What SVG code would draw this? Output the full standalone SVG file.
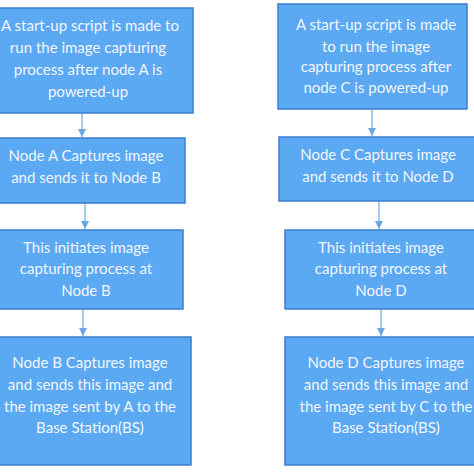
<svg xmlns="http://www.w3.org/2000/svg" width="474" height="474" viewBox="0 0 474 474">
<style>
.box{fill:#5aa9f2;stroke:#3c7dcc;stroke-width:1.5}
.t{font-family:Lato,"Noto Sans",sans-serif;font-size:15px;fill:#f2f6ff;text-anchor:middle}
.c{stroke:#7bb0e2;stroke-width:1.3;fill:none}
</style>
<defs>
<marker id="ah" viewBox="0 0 8 8" refX="8" refY="4" markerWidth="8" markerHeight="8" markerUnits="userSpaceOnUse" orient="auto">
<path d="M0,0 L8,4 L0,8 Z" fill="#6aa6e0"/>
</marker>
</defs>
<rect width="474" height="474" fill="#ffffff"/>
<g id="connectors">
<line class="c" x1="82" y1="113" x2="82" y2="137" marker-end="url(#ah)"/>
<line class="c" x1="85" y1="203" x2="85" y2="229" marker-end="url(#ah)"/>
<line class="c" x1="83" y1="309" x2="83" y2="336" marker-end="url(#ah)"/>
<line class="c" x1="372" y1="109" x2="372" y2="136" marker-end="url(#ah)"/>
<line class="c" x1="379" y1="201" x2="379" y2="229" marker-end="url(#ah)"/>
<line class="c" x1="381" y1="309" x2="381" y2="336" marker-end="url(#ah)"/>
</g>
<g id="nodeA1">
<rect class="box" x="-17" y="8" width="210" height="105"/>
<text class="t" x="90" y="31">A start-up script is made to</text>
<text class="t" x="88" y="53">run the image capturing</text>
<text class="t" x="88" y="75">process after node A is</text>
<text class="t" x="88" y="97">powered-up</text>
</g>
<g id="nodeA2">
<rect class="box" x="-13" y="138" width="198" height="65"/>
<text class="t" x="86" y="161">Node A Captures image</text>
<text class="t" x="86" y="183">and sends it to Node B</text>
</g>
<g id="nodeA3">
<rect class="box" x="-11" y="230" width="194" height="79"/>
<text class="t" x="86" y="253">This initiates image</text>
<text class="t" x="86" y="274">capturing process at</text>
<text class="t" x="86" y="296">Node B</text>
</g>
<g id="nodeA4">
<rect class="box" x="-11" y="337" width="202" height="128"/>
<text class="t" x="90" y="368">Node B Captures image</text>
<text class="t" x="90" y="390">and sends this image and</text>
<text class="t" x="90" y="412">the image sent by A to the</text>
<text class="t" x="90" y="433">Base Station(BS)</text>
</g>
<g id="nodeC1">
<rect class="box" x="278" y="4" width="189" height="105"/>
<text class="t" x="376" y="30">A start-up script is made</text>
<text class="t" x="376" y="52">to run the image</text>
<text class="t" x="376" y="72">capturing process after</text>
<text class="t" x="376" y="93">node C is powered-up</text>
</g>
<g id="nodeC2">
<rect class="box" x="279" y="137" width="200" height="64"/>
<text class="t" x="378" y="160">Node C Captures image</text>
<text class="t" x="378" y="182">and sends it to Node D</text>
</g>
<g id="nodeC3">
<rect class="box" x="285" y="230" width="194" height="79"/>
<text class="t" x="381" y="253">This initiates image</text>
<text class="t" x="381" y="274">capturing process at</text>
<text class="t" x="381" y="296">Node D</text>
</g>
<g id="nodeD4">
<rect class="box" x="285" y="337" width="204" height="128"/>
<text class="t" x="386" y="368">Node D Captures image</text>
<text class="t" x="386" y="390">and sends this image and</text>
<text class="t" x="386" y="412">the image sent by C to the</text>
<text class="t" x="386" y="433">Base Station(BS)</text>
</g>
</svg>
